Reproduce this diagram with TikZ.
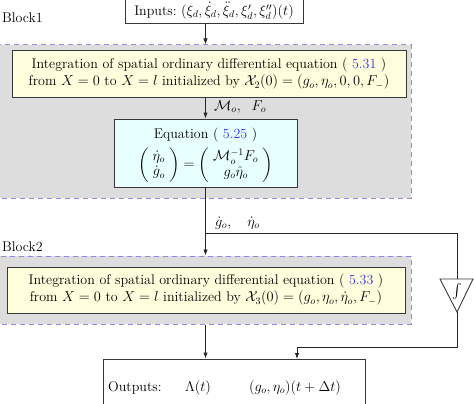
\documentclass[tikz,border=0pt]{standalone}
\usepackage{amsmath}
\usetikzlibrary{arrows.meta}
\definecolor{grayfill}{RGB}{221,221,221}
\definecolor{yelfill}{RGB}{255,255,222}
\definecolor{cyanfill}{RGB}{232,255,255}
\definecolor{dashblue}{RGB}{140,140,225}
\definecolor{refblue}{RGB}{50,50,230}
\definecolor{linegray}{RGB}{55,55,55}
\newcommand{\colvec}[2]{\vcenter{\hbox{\fontsize{14}{15.5}\selectfont\begin{tabular}{@{}c@{}}$#1$\\$#2$\end{tabular}}}}
\begin{document}
\begin{tikzpicture}[x=1pt,y=-1pt, font=\fontsize{14}{17}\selectfont,
 box/.style={draw=linegray, line width=0.9pt, inner sep=0pt, align=center},
 blockbg/.style={fill=grayfill, draw=dashblue, dash pattern=on 5pt off 4pt, line width=1pt, inner sep=0pt},
 arr/.style={-{Latex[length=6pt,width=4.5pt]}, line width=0.9pt, draw=black!85},
 conn/.style={line width=0.9pt, draw=black!85},
 lbl/.style={anchor=west, inner sep=0pt}]
\useasboundingbox (0,0) rectangle (474,404);
% blocks
\node[blockbg, minimum width=418pt, minimum height=153pt] (blk1) at (202,121.5) {};
\node[blockbg, minimum width=418pt, minimum height=68pt] (blk2) at (202,290) {};
\node[lbl] (b1lbl) at (2,18) {Block1};
\node[lbl] (b2lbl) at (2,247) {Block2};
% nodes
\node[box, fill=white, minimum width=178pt, minimum height=25pt] (inputs) at (214,11)
 {Inputs:~$(\xi_d,\dot\xi_d,\ddot\xi_d,\xi'_d,\xi''_d)(t)$};
\node[box, fill=yelfill, line width=1pt, minimum width=394pt, minimum height=46pt] (ode1) at (209,74)
 {Integration of spatial ordinary differential equation (\ \textcolor{refblue}{5.31}\ )\\
  from $X=0$ to $X=l$ initialized by $\mathcal{X}_2(0)=(g_o,\eta_o,0,0,F_-)$};
\node[box, fill=cyanfill, minimum width=183pt, minimum height=68pt] (eq) at (205.5,153) {};
\node[inner sep=0pt] (eqtitle) at (205.5,135) {Equation (\ \textcolor{refblue}{5.25}\ )};
\node[inner sep=0pt] (eqbody) at (205.5,165)
 {$\biggl(\;\colvec{\dot\eta_o}{\dot g_o}\;\biggr)
   =\biggl(\;\colvec{\mathcal{M}_o^{-1}F_o}{g_o\hat\eta_o}\;\biggr)$};
\node[box, fill=yelfill, line width=1pt, minimum width=398pt, minimum height=46pt] (ode2) at (206,290)
 {Integration of spatial ordinary differential equation (\ \textcolor{refblue}{5.33}\ )\\
  from $X=0$ to $X=l$ initialized by $\mathcal{X}_3(0)=(g_o,\eta_o,\dot\eta_o,F_-)$};
\node[box, fill=white, minimum width=262pt, minimum height=52pt] (out) at (234,385) {};
\node[lbl] (outtxt) at (108,388) {Outputs:};
\node[inner sep=0pt] (lam) at (198,388) {$\Lambda(t)$};
\node[inner sep=0pt] (ge) at (295,388) {$(g_o,\eta_o)(t+\Delta t)$};
% integrator
\coordinate (intop) at (457,279);
\coordinate (intip) at (457,312);
\draw[box] (440,279) -- (473,279) -- (intip) -- cycle;
\node[inner sep=0pt] (integ) at (457,291) {$\int$};
% labels
\node[lbl] (lm) at (214,107) {$\mathcal{M}_o,\ \;F_o$};
\node[lbl] (lg) at (215,223) {$\dot g_o,\ \ \ \dot\eta_o$};
% connectors
\draw[arr] (inputs.south -| eq.north) -- (blk1.north -| eq.north);
\draw[arr] (ode1.south -| eq.north) -- (eq.north);
\draw[arr] (eq.south) -- (blk2.north -| eq.south);
\coordinate (br) at (205.5,233);
\draw[conn] (br) -- (br -| intop) -- (intop);
\coordinate (fb) at (457,347);
\coordinate (in2) at (297,359);
\draw[arr] (intip) -- (fb) -- (fb -| in2) -- (in2);
\draw[arr] (blk2.south -| eq.south) -- (out.north -| eq.south);
\end{tikzpicture}
\end{document}
